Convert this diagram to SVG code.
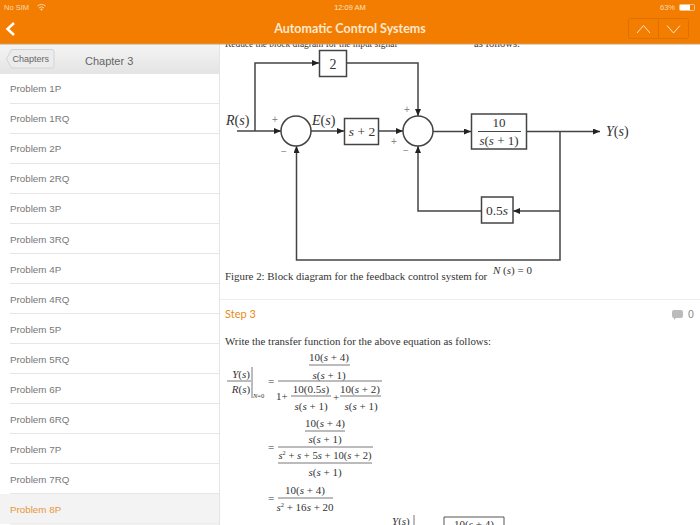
<svg xmlns="http://www.w3.org/2000/svg" width="700" height="525" viewBox="0 0 700 525">
<style>
.ui{font-family:"Lato","Liberation Sans",sans-serif}
.row{font-family:"Liberation Sans",sans-serif;font-size:9.800px;fill:#777}
.sep{stroke:#e6e6e6;stroke-width:1}
.m{font-family:"Liberation Serif",serif;fill:#333}
.i{font-style:italic}
.d{font-size:14px}
.e{font-size:11px}
.wire{fill:none;stroke:#444;stroke-width:1.5}
.box{fill:#fff;stroke:#444;stroke-width:1.5}
.rule{stroke:#555;stroke-width:.8}
.sign{font-family:"Liberation Sans",sans-serif;font-size:10px;fill:#888}
</style>
<defs>
<linearGradient id="bar" x1="0" y1="0" x2="0" y2="1"><stop offset="0" stop-color="#f4f4f4"/><stop offset="1" stop-color="#e4e4e4"/></linearGradient>
<marker id="arr" markerWidth="8" markerHeight="6" refX="7" refY="3" orient="auto" markerUnits="userSpaceOnUse"><path d="M0 0L7 3L0 6z" fill="#222"/></marker>
</defs>
<rect width="700" height="525" fill="#fff"/>

<g id="cut-off-text" class="m" font-size="11" fill="#222">
<text x="225" y="46.500" textLength="172" lengthAdjust="spacingAndGlyphs">Reduce the block diagram for the input signal</text>
<text x="474" y="46.500" textLength="46" lengthAdjust="spacingAndGlyphs">as follows:</text>
</g>

<g id="connectors">
<path class="wire" d="M237 131H281" marker-end="url(#arr)"/>
<path class="wire" d="M255 131V63H319" marker-end="url(#arr)"/>
<path class="wire" d="M311 131H344" marker-end="url(#arr)"/>
<path class="wire" d="M379 131H403" marker-end="url(#arr)"/>
<path class="wire" d="M346 63H418V116" marker-end="url(#arr)"/>
<path class="wire" d="M433 131.500H471" marker-end="url(#arr)"/>
<path class="wire" d="M526 131.500H600" marker-end="url(#arr)"/>
<path class="wire" d="M560 131.500V260H296.500V146" marker-end="url(#arr)"/>
<path class="wire" d="M560 211H513" marker-end="url(#arr)"/>
<path class="wire" d="M481 211H418V146" marker-end="url(#arr)"/>
</g>

<g id="block-2"><rect class="box" x="319.500" y="50.500" width="27" height="26"/><text class="m d" x="333" y="68.500" text-anchor="middle">2</text></g>
<g id="sum-1"><circle class="box" cx="296" cy="131" r="15"/></g>
<g id="block-s2"><rect class="box" x="344.500" y="118.500" width="34" height="26"/><text class="m" font-size="13.500" x="362" y="136" text-anchor="middle"><tspan class="i">s</tspan> + 2</text></g>
<g id="sum-2"><circle class="box" cx="418" cy="131" r="15"/></g>
<g id="block-g"><rect class="box" x="471.500" y="114" width="55" height="35"/><text class="m" font-size="13" x="499" y="127" text-anchor="middle">10</text><line x1="478" y1="131.500" x2="521" y2="131.500" stroke="#444"/><text class="m" font-size="13" x="499" y="145" text-anchor="middle"><tspan class="i">s</tspan>(<tspan class="i">s</tspan> + 1)</text></g>
<g id="block-h"><rect class="box" x="481.500" y="197" width="31.500" height="26"/><text class="m" font-size="13.500" x="497" y="215" text-anchor="middle">0.5<tspan class="i">s</tspan></text></g>

<g id="signal-labels">
<text class="m d" x="226" y="125"><tspan class="i">R</tspan>(<tspan class="i">s</tspan>)</text>
<text class="m d" x="312" y="125"><tspan class="i">E</tspan>(<tspan class="i">s</tspan>)</text>
<text class="m d" x="606" y="136"><tspan class="i">Y</tspan>(<tspan class="i">s</tspan>)</text>
<text class="sign" x="272" y="123">+</text><text class="sign" x="404" y="113">+</text><text class="sign" x="391" y="145">+</text>
<text class="sign" x="281" y="155">−</text><text class="sign" x="403" y="154">−</text>
</g>

<text id="caption" class="m" font-size="10.900" fill="#222" x="225" y="280">Figure 2: Block diagram for the feedback control system for</text>
<text class="m" font-size="11" x="493" y="274"><tspan class="i">N</tspan> (<tspan class="i">s</tspan>) = 0</text>

<line x1="220" y1="299.500" x2="700" y2="299.500" stroke="#eee"/>
<text class="ui" x="225" y="318" font-size="11" fill="#e88a1a">Step 3</text>
<g id="comment"><path d="M674 310h7a2 2 0 0 1 2 2v4a2 2 0 0 1-2 2h-5l-2 2v-2a2 2 0 0 1-2-2v-4a2 2 0 0 1 2-2z" fill="#bbb"/><text x="688" y="318" font-family="Liberation Sans,sans-serif" font-size="10.500" fill="#888">0</text></g>
<text class="m" font-size="10.900" fill="#222" x="225" y="345">Write the transfer function for the above equation as follows:</text>

<g id="equations">
<text class="m e" x="329" y="361" text-anchor="middle">10(<tspan class="i">s</tspan> + 4)</text>
<line class="rule" x1="309" y1="365" x2="350" y2="365"/>
<text class="m e" x="329" y="379" text-anchor="middle"><tspan class="i">s</tspan>(<tspan class="i">s</tspan> + 1)</text>
<line class="rule" x1="278" y1="381" x2="382" y2="381"/>
<text class="m e" x="241" y="378" text-anchor="middle"><tspan class="i">Y</tspan>(<tspan class="i">s</tspan>)</text>
<line class="rule" x1="227" y1="381" x2="251" y2="381"/>
<text class="m e" x="241" y="393" text-anchor="middle"><tspan class="i">R</tspan>(<tspan class="i">s</tspan>)</text>
<line class="rule" x1="252" y1="367" x2="252" y2="398"/>
<text class="m" font-size="6.500" x="253" y="398"><tspan class="i">N</tspan>=0</text>
<text class="m e" x="268" y="385">=</text>
<text class="m e" x="276" y="400">1+</text>
<text class="m e" x="311" y="393" text-anchor="middle">10(0.5<tspan class="i">s</tspan>)</text>
<line class="rule" x1="291" y1="396" x2="331" y2="396"/>
<text class="m e" x="311" y="410" text-anchor="middle"><tspan class="i">s</tspan>(<tspan class="i">s</tspan> + 1)</text>
<text class="m e" x="333" y="401">+</text>
<text class="m e" x="360" y="393" text-anchor="middle">10(<tspan class="i">s</tspan> + 2)</text>
<line class="rule" x1="340" y1="396" x2="381" y2="396"/>
<text class="m e" x="361" y="410" text-anchor="middle"><tspan class="i">s</tspan>(<tspan class="i">s</tspan> + 1)</text>

<text class="m e" x="268" y="451">=</text>
<text class="m e" x="325" y="427" text-anchor="middle">10(<tspan class="i">s</tspan> + 4)</text>
<line class="rule" x1="305" y1="431" x2="345" y2="431"/>
<text class="m e" x="325" y="443" text-anchor="middle"><tspan class="i">s</tspan>(<tspan class="i">s</tspan> + 1)</text>
<line class="rule" x1="278" y1="447" x2="373" y2="447"/>
<text class="m e" x="325" y="459" text-anchor="middle" textLength="93" lengthAdjust="spacingAndGlyphs"><tspan class="i">s</tspan><tspan font-size="6.500" dy="-4">2</tspan><tspan dy="4"> + </tspan><tspan class="i">s</tspan> + 5<tspan class="i">s</tspan> + 10(<tspan class="i">s</tspan> + 2)</text>
<line class="rule" x1="278" y1="463" x2="372" y2="463"/>
<text class="m e" x="325" y="476" text-anchor="middle"><tspan class="i">s</tspan>(<tspan class="i">s</tspan> + 1)</text>

<text class="m e" x="268" y="502">=</text>
<text class="m e" x="305" y="494" text-anchor="middle">10(<tspan class="i">s</tspan> + 4)</text>
<line class="rule" x1="278" y1="498" x2="333" y2="498"/>
<text class="m e" x="305" y="511" text-anchor="middle"><tspan class="i">s</tspan><tspan font-size="6.500" dy="-4">2</tspan><tspan dy="4"> + 16</tspan><tspan class="i">s</tspan> + 20</text>

<text class="m e" x="392" y="525"><tspan class="i">Y</tspan>(<tspan class="i">s</tspan>)</text>
<line class="rule" x1="414" y1="515" x2="414" y2="525"/>
<path d="M444 525V517H504V525" fill="none" stroke="#555"/>
<text class="m e" x="474" y="528" text-anchor="middle">10(<tspan class="i">s</tspan> + 4)</text>
</g>

<g id="sidebar">
<rect x="0" y="44" width="219" height="481" fill="#fff"/>
<rect x="0" y="494" width="219" height="30" fill="#f3f3f3"/>
<rect x="0" y="44" width="219" height="30" fill="url(#bar)"/>
<line x1="219.500" y1="44" x2="219.500" y2="525" stroke="#e4e4e4"/>
<path d="M11.500 49.500H52a2 2 0 0 1 2 2V66a2 2 0 0 1-2 2H11.500L6.500 59z" fill="#ececec" stroke="#d4d4d4"/>
<text x="12.500" y="62" font-family="Liberation Sans,sans-serif" font-size="9" fill="#666">Chapters</text>
<text x="85" y="65" font-family="Liberation Sans,sans-serif" font-size="11" fill="#666">Chapter 3</text>
<g id="problem-rows">
<text class="row" x="10" y="92">Problem 1P</text><line class="sep" x1="10" y1="103.500" x2="219" y2="103.500"/>
<text class="row" x="10" y="122">Problem 1RQ</text><line class="sep" x1="10" y1="133.500" x2="219" y2="133.500"/>
<text class="row" x="10" y="152">Problem 2P</text><line class="sep" x1="10" y1="163.500" x2="219" y2="163.500"/>
<text class="row" x="10" y="182">Problem 2RQ</text><line class="sep" x1="10" y1="193.500" x2="219" y2="193.500"/>
<text class="row" x="10" y="212">Problem 3P</text><line class="sep" x1="10" y1="223.500" x2="219" y2="223.500"/>
<text class="row" x="10" y="243">Problem 3RQ</text><line class="sep" x1="10" y1="253.500" x2="219" y2="253.500"/>
<text class="row" x="10" y="273">Problem 4P</text><line class="sep" x1="10" y1="283.500" x2="219" y2="283.500"/>
<text class="row" x="10" y="303">Problem 4RQ</text><line class="sep" x1="10" y1="313.500" x2="219" y2="313.500"/>
<text class="row" x="10" y="333">Problem 5P</text><line class="sep" x1="10" y1="343.500" x2="219" y2="343.500"/>
<text class="row" x="10" y="363">Problem 5RQ</text><line class="sep" x1="10" y1="373.500" x2="219" y2="373.500"/>
<text class="row" x="10" y="393">Problem 6P</text><line class="sep" x1="10" y1="403.500" x2="219" y2="403.500"/>
<text class="row" x="10" y="423">Problem 6RQ</text><line class="sep" x1="10" y1="433.500" x2="219" y2="433.500"/>
<text class="row" x="10" y="453">Problem 7P</text><line class="sep" x1="10" y1="463.500" x2="219" y2="463.500"/>
<text class="row" x="10" y="483">Problem 7RQ</text><line class="sep" x1="10" y1="493.500" x2="219" y2="493.500"/>
<text class="row" x="10" y="513" style="fill:#e8973a">Problem 8P</text><line class="sep" x1="10" y1="524" x2="219" y2="524"/>
</g>
</g>

<g id="header">
<rect width="700" height="44" fill="#f27d00"/>
<line x1="0" y1="44" x2="700" y2="44" stroke="#c9a06f"/>
<text x="4" y="10" font-family="Liberation Sans,sans-serif" font-size="7.500" fill="#fbd9b0">No SIM</text>
<path d="M37.500 6a6 6 0 0 1 8 0M39 8a3.500 3.500 0 0 1 5 0" fill="none" stroke="#fbd9b0"/><circle cx="41.500" cy="9.500" r="1" fill="#fbd9b0"/>
<text x="350" y="10" text-anchor="middle" font-family="Liberation Sans,sans-serif" font-size="7.500" fill="#fde3c4">12:09 AM</text>
<text x="660" y="10" font-family="Liberation Sans,sans-serif" font-size="7.500" fill="#fbd9b0">63%</text>
<rect x="679.500" y="4.500" width="15" height="6" rx="1" fill="none" stroke="#fde3c4" stroke-width=".7"/><rect x="680" y="5" width="10" height="5" fill="#fff"/>
<path d="M14 23L7.500 29L14 35" fill="none" stroke="#fff" stroke-width="2.500"/>
<text x="350" y="33" text-anchor="middle" class="ui" font-size="12.500" font-weight="bold" fill="#fde8d0">Automatic Control Systems</text>
<rect x="628.500" y="18.500" width="60" height="20" rx="2" fill="none" stroke="#e07000"/>
<line x1="658.500" y1="18.500" x2="658.500" y2="38.500" stroke="#e07000"/>
<path d="M637 33L643.500 25.500L650 33M667 25.500L673.500 33L680 25.500" fill="none" stroke="#fde3c4"/>
</g>
</svg>
